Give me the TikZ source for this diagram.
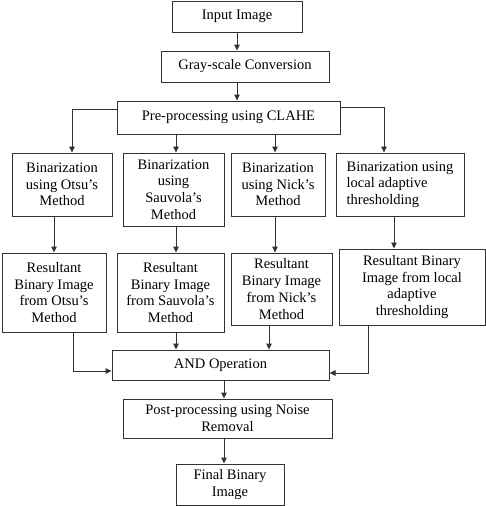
\documentclass[tikz,border=0pt]{standalone}
\usepackage{fontspec}
\setmainfont{Liberation Serif}
\usetikzlibrary{arrows.meta}
\begin{document}
\begin{tikzpicture}[x=1pt,y=-1pt,>={Triangle[length=6pt,width=5.5pt]},
	box/.style={draw=black!80,line width=1pt,align=center,inner sep=1pt,
		font=\fontsize{14.5}{16.7}\selectfont},
	line/.style={->,draw=black!80,line width=1pt}]
		\useasboundingbox (0,0) rectangle (486,506);
		% top of the chart
		\node[box,minimum width=130,minimum height=31] (input) at (237,16.5) {Input Image};
		\node[box,minimum width=168,minimum height=31] (gray) at (245,66.5) {Gray-scale Conversion};
		\node[box,minimum width=223,minimum height=33] (clahe) at (228.5,117.5) {Pre-processing using CLAHE};
		% binarization methods
		\node[box,minimum width=100,minimum height=63] (binotsu) at (62,184.5) {Binarization\\using Otsu's\\Method};
		\node[box,minimum width=101,minimum height=73] (binsauv) at (173.5,189.5) {Binarization\\using\\Sauvola's\\Method};
		\node[box,minimum width=94,minimum height=63] (binnick) at (278,184.5) {Binarization\\using Nick's\\Method};
		\node[box,minimum width=128,minimum height=63,align=left] (binlocal) at (400,184.5) {Binarization using\\local adaptive\\thresholding};
		% resultant images
		\node[box,minimum width=104,minimum height=79] (resotsu) at (54,292.5) {Resultant\\Binary Image\\from Otsu's\\Method};
		\node[box,minimum width=107,minimum height=79] (ressauv) at (170.5,292.5) {Resultant\\Binary Image\\from Sauvola's\\Method};
		\node[box,minimum width=101,minimum height=72] (resnick) at (281.5,289) {Resultant\\Binary Image\\from Nick's\\Method};
		\node[box,minimum width=146,minimum height=76] (reslocal) at (412,287) {Resultant Binary\\Image from local\\adaptive\\thresholding};
		% bottom of the chart
		\node[box,minimum width=217,minimum height=30] (andop) at (220.5,365) {AND Operation};
		\node[box,minimum width=209,minimum height=39] (post) at (227.5,418.5) {Post-processing using Noise\\Removal};
		\node[box,minimum width=108,minimum height=41] (final) at (230,484.5) {Final Binary\\Image};
		% connectors
		\draw[line] (input.south) -- (input.south |- gray.north);
		\draw[line] (gray.south -| input.south) -- (clahe.north -| input.south);
		\draw[line] ([yshift=8.5]clahe.west) -| ([xshift=10]binotsu.north);
		\draw[line] ([xshift=2.5]binsauv.north |- clahe.south) -- ([xshift=2.5]binsauv.north);
		\draw[line] ([xshift=-3]binnick.north |- clahe.south) -- ([xshift=-3]binnick.north);
		\draw[line] ([yshift=10.5]clahe.east) -| ([xshift=-16]binlocal.north);
		\draw[line] (resotsu.north |- binotsu.south) -- (resotsu.north);
		\draw[line] ([xshift=2.5]binsauv.south) -- ([xshift=2.5]binsauv.south |- ressauv.north);
		\draw[line] ([xshift=-3]binnick.south) -- ([xshift=-3]binnick.south |- resnick.north);
		\draw[line] ([xshift=-6]binlocal.south) -- ([xshift=-6]binlocal.south |- reslocal.north);
		\draw[line] ([xshift=19]resotsu.south) |- ([yshift=-6]andop.west);
		\draw[line] ([xshift=5.5]ressauv.south) -- ([xshift=5.5]ressauv.south |- andop.north);
		\draw[line] ([xshift=-12.5]resnick.south) -- ([xshift=-12.5]resnick.south |- andop.north);
		\draw[line] ([xshift=-44]reslocal.south) |- ([yshift=-8]andop.east);
		\draw[line] ([xshift=3.5]andop.south) -- ([xshift=3.5]andop.south |- post.north);
		\draw[line] ([xshift=-3.5]post.south) -- ([xshift=-3.5]post.south |- final.north);
\end{tikzpicture}
\end{document}
